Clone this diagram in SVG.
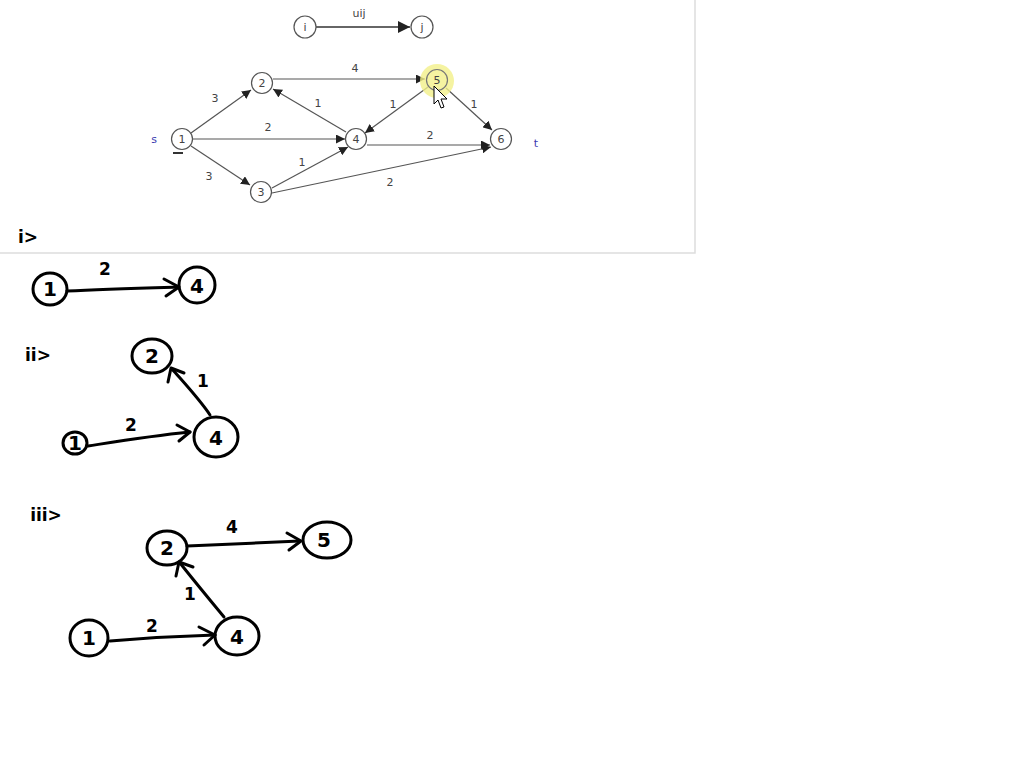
<svg xmlns="http://www.w3.org/2000/svg" width="1024" height="768" viewBox="0 0 1024 768">
<style>
.tn{fill:#fff;stroke:#555;stroke-width:1.2}
.tt{font-family:"DejaVu Sans",sans-serif;font-size:11px;fill:#444;text-anchor:middle}
.te{stroke:#555;stroke-width:1.2;fill:none;marker-end:url(#ah)}
.st{font-family:"DejaVu Sans",sans-serif;font-size:11px;fill:#3a3ab0;text-anchor:middle}
.hn{fill:none;stroke:#000;stroke-width:3}
.he{fill:none;stroke:#000;stroke-width:3;stroke-linecap:round;stroke-linejoin:round}
.ht{font-family:"DejaVu Sans",sans-serif;font-weight:bold;font-size:20px;fill:#000;text-anchor:middle}
.hl{font-family:"DejaVu Sans",sans-serif;font-weight:bold;font-size:17px;fill:#000;text-anchor:middle}
</style>
<defs>
<marker id="ah" viewBox="0 0 10 10" refX="10" refY="5" markerWidth="9" markerHeight="9" markerUnits="userSpaceOnUse" orient="auto">
<path d="M0,0 L10,5 L0,10 z" fill="#222"/>
</marker>
<marker id="ahb" viewBox="0 0 10 10" refX="10" refY="5" markerWidth="12" markerHeight="12" markerUnits="userSpaceOnUse" orient="auto">
<path d="M0,0 L10,5 L0,10 z" fill="#222"/>
</marker>
</defs>
<rect width="1024" height="768" fill="#fff"/>
<path d="M695,0 V253 H0" fill="none" stroke="#ddd" stroke-width="1.5"/>

<g id="connectors">
<line x1="316" y1="27" x2="410" y2="27" stroke="#333" stroke-width="1.5" marker-end="url(#ahb)"/>
<line class="te" x1="273" y1="79" x2="425" y2="79"/>
<line class="te" x1="191" y1="133" x2="251" y2="90"/>
<line class="te" x1="193" y1="139" x2="345" y2="139"/>
<line class="te" x1="191" y1="146" x2="250" y2="185"/>
<line class="te" x1="346" y1="132" x2="273" y2="89"/>
<line class="te" x1="428" y1="87" x2="365" y2="133"/>
<line class="te" x1="446" y1="88" x2="492" y2="130"/>
<line class="te" x1="367" y1="145" x2="490" y2="145"/>
<line class="te" x1="272" y1="188" x2="348" y2="147"/>
<line class="te" x1="272" y1="193" x2="491" y2="147"/>
<line x1="173" y1="153" x2="183" y2="153" stroke="#333" stroke-width="2"/>

<path class="he" d="M67,291 C100,289 140,288 178,287"/>
<path class="he" d="M164,279 L179,287 L166,296"/>

<path class="he" d="M88,446 C120,441 150,436 190,432"/>
<path class="he" d="M177,425 L190,432 L179,441"/>
<path class="he" d="M210,415 C200,400 186,385 172,369"/>
<path class="he" d="M168,382 L171,368 L184,373"/>

<path class="he" d="M187,546 C230,544 260,543 300,541"/>
<path class="he" d="M287,533 L301,541 L289,550"/>
<path class="he" d="M224,617 C210,600 195,582 180,563"/>
<path class="he" d="M176,576 L179,562 L193,567"/>
<path class="he" d="M110,641 C145,638 180,636 215,635"/>
<path class="he" d="M199,627 L215,635 L204,645"/>
</g>

<g id="legend-i"><circle class="tn" cx="305" cy="27" r="11"/><text class="tt" x="305" y="31">i</text></g>
<g id="legend-j"><circle class="tn" cx="422" cy="27" r="11"/><text class="tt" x="422" y="31">j</text></g>
<text class="tt" x="359" y="17">uij</text>

<g id="highlight5"><circle cx="437" cy="81" r="17" fill="#f2f08a" opacity="0.8"/></g>
<g id="t2"><circle class="tn" cx="262" cy="83" r="10.5"/><text class="tt" x="262" y="87">2</text></g>
<g id="t5"><circle cx="437" cy="80" r="10.5" fill="none" stroke="#777" stroke-width="1.2"/><text class="tt" x="437" y="84" fill="#666">5</text></g>
<g id="t1"><circle class="tn" cx="182" cy="139" r="10.5"/><text class="tt" x="182" y="143">1</text></g>
<g id="t4"><circle class="tn" cx="356" cy="139" r="10.5"/><text class="tt" x="356" y="143">4</text></g>
<g id="t6"><circle class="tn" cx="501" cy="139" r="10.5"/><text class="tt" x="501" y="143">6</text></g>
<g id="t3"><circle class="tn" cx="261" cy="192" r="10.5"/><text class="tt" x="261" y="196">3</text></g>
<text class="st" x="154" y="143">s</text>
<text class="st" x="536" y="147">t</text>

<g id="top-labels">
<text class="tt" x="355" y="72">4</text>
<text class="tt" x="215" y="102">3</text>
<text class="tt" x="318" y="107">1</text>
<text class="tt" x="393" y="108">1</text>
<text class="tt" x="474" y="108">1</text>
<text class="tt" x="268" y="131">2</text>
<text class="tt" x="430" y="139">2</text>
<text class="tt" x="302" y="166">1</text>
<text class="tt" x="209" y="180">3</text>
<text class="tt" x="390" y="186">2</text>
</g>

<g id="cursor"><path d="M434,86 L434,104 L438,100 L441,108 L444,107 L441,99 L447,99 Z" fill="#fff" stroke="#000" stroke-width="1"/></g>

<g id="hand-i">
<text class="hl" x="28" y="243">i&gt;</text>
<g id="h1-1"><ellipse class="hn" cx="50" cy="289" rx="17" ry="16"/><text class="ht" x="50" y="296">1</text></g>
<g id="h1-4"><ellipse class="hn" cx="197" cy="285" rx="18" ry="18"/><text class="ht" x="197" y="293">4</text></g>
<text class="hl" x="105" y="275">2</text>
</g>

<g id="hand-ii">
<text class="hl" x="38" y="361">ii&gt;</text>
<g id="h2-2"><ellipse class="hn" cx="152" cy="356" rx="20" ry="17"/><text class="ht" x="152" y="363">2</text></g>
<g id="h2-1"><ellipse class="hn" cx="75" cy="443" rx="12" ry="11"/><text class="ht" x="75" y="450" font-size="15">1</text></g>
<g id="h2-4"><ellipse class="hn" cx="216" cy="437" rx="22" ry="20"/><text class="ht" x="216" y="445">4</text></g>
<text class="hl" x="131" y="431">2</text>
<text class="hl" x="203" y="387">1</text>
</g>

<g id="hand-iii">
<text class="hl" x="46" y="521">iii&gt;</text>
<g id="h3-2"><ellipse class="hn" cx="167" cy="548" rx="20" ry="17"/><text class="ht" x="167" y="555">2</text></g>
<g id="h3-5"><ellipse class="hn" cx="327" cy="540" rx="24" ry="18"/><text class="ht" x="324" y="547">5</text></g>
<g id="h3-1"><ellipse class="hn" cx="89" cy="638" rx="19" ry="18"/><text class="ht" x="89" y="645">1</text></g>
<g id="h3-4"><ellipse class="hn" cx="237" cy="636" rx="22" ry="19"/><text class="ht" x="237" y="644">4</text></g>
<text class="hl" x="232" y="533">4</text>
<text class="hl" x="190" y="600">1</text>
<text class="hl" x="152" y="632">2</text>
</g>
</svg>
